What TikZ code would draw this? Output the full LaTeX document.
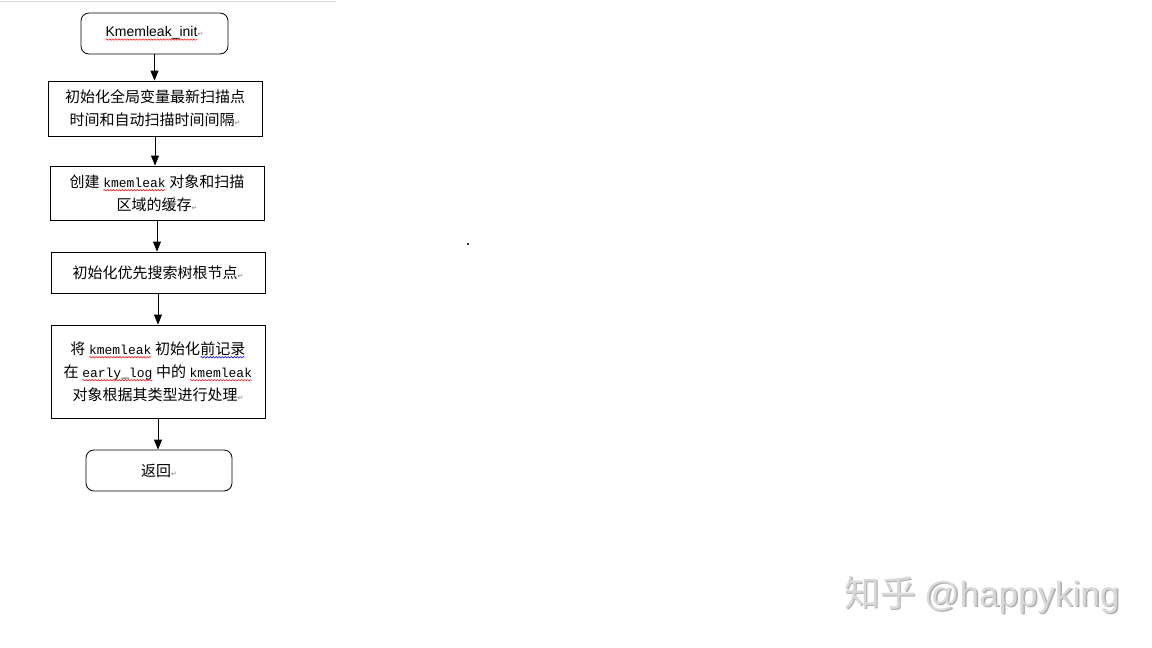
\documentclass[tikz,border=0pt]{standalone}
\usepackage{fontspec}
\setmainfont{Liberation Sans}
\setmonofont{Liberation Mono}
\newfontfamily\cjk{Noto Sans CJK SC}
\newfontfamily\dv{DejaVu Sans}
\usetikzlibrary{arrows.meta,decorations.pathmorphing}
\newcommand\lat{\rmfamily\fontsize{14}{23}\selectfont}
\newcommand\mono{\ttfamily\fontsize{13}{23}\selectfont}
\newcommand\retmark{{\dv\fontsize{7}{7}\selectfont\color{gray}↵}}
\newcommand\wmtext{{\cjk\fontsize{36}{36}\selectfont 知乎}\hspace{8pt}{\fontsize{35}{35}\selectfont @happyking}}
\tikzset{
  box/.style={draw, line width=0.8pt, minimum width=214pt, inner sep=0pt, align=center, font=\cjk\fontsize{15}{23}\selectfont},
  term/.style={box, rounded corners=8pt, minimum width=147pt, minimum height=41pt},
  arr/.style={line width=0.8pt, -{Triangle[length=10pt,width=8pt]}},
  wavy/.style={decorate, decoration={snake, amplitude=0.7pt, segment length=3pt}, line width=0.5pt, sharp corners},
  wavetext/.style={draw=none, fill=none, inner sep=0pt, outer sep=0pt, minimum width=0pt, minimum height=0pt, rectangle, sharp corners},
}
\newcommand\wv[2]{\tikz[baseline=(t.base)]{\node[wavetext](t){#2};\draw[wavy,#1]([yshift=-3pt]t.base west)--([yshift=-3pt]t.base east);}}
\begin{document}
\begin{tikzpicture}[x=1pt,y=-1pt]
\useasboundingbox (0,0) rectangle (1152,648);
\draw[gray!30, line width=1pt] (0,1.5) -- (336,1.5);
\fill[black!80] (467,243) rectangle (469,245);

\node[term] (b1) at (154.5,33.5) {\wv{red}{\lat Kmemleak\_init}\retmark};
\node[box, minimum height=55pt] (b2) at (155,108.5) {初始化全局变量最新扫描点\\ 时间和自动扫描时间间隔\retmark};
\node[box, minimum height=54pt] (b3) at (157,193) {创建 \wv{red}{\mono kmemleak} 对象和扫描\\区域的缓存\retmark};
\node[box, minimum height=41pt] (b4) at (158,272.5) {初始化优先搜索树根节点\retmark};
\node[box, minimum height=93pt] (b5) at (158,371.5) {将 \wv{red}{\mono kmemleak} 初始化\wv{blue}{\cjk\fontsize{15}{23}\selectfont 前记录}\\在 \wv{red}{\mono early\_log} 中的 \wv{red}{\mono kmemleak}\\对象根据其类型进行处理\retmark};
\node[term, minimum width=146pt] (b6) at (159,470.5) {返回\retmark};

\draw[arr] (b1.south) -- (b1.south |- b2.north);
\draw[arr] (b2.south) -- (b2.south |- b3.north);
\draw[arr] (b3.south) -- (b3.south |- b4.north);
\draw[arr] (b4.south) -- (b4.south |- b5.north);
\draw[arr] (b5.south) -- (b5.south |- b6.north);

\node[anchor=base west, inner sep=0pt, text=gray!65] (wms) at (845.5,607.5) {\wmtext};
\node[anchor=base west, inner sep=0pt, text=gray!30] (wm) at (844,606) {\wmtext};
\end{tikzpicture}
\end{document}
